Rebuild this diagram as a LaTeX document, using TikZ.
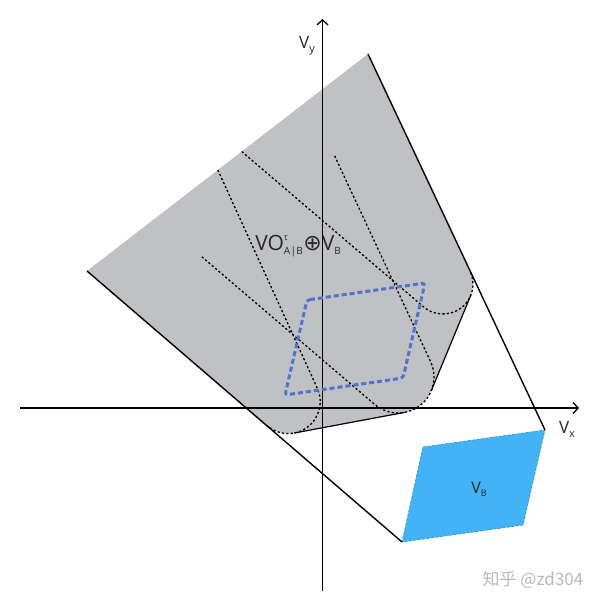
\documentclass[tikz,border=0pt]{standalone}
\usepackage{fontspec}
\setmainfont{Open Sans}
\newfontfamily\symfont{DejaVu Sans}
\newfontfamily\cjkfont{Noto Sans CJK SC}
\usetikzlibrary{arrows.meta,calc}
\definecolor{regiongray}{RGB}{191,193,196}
\definecolor{vbfill}{RGB}{66,180,245}
\definecolor{vbedge}{RGB}{40,140,215}
\definecolor{shiftblue}{RGB}{85,115,200}
\definecolor{wmgray}{RGB}{185,185,185}
\definecolor{labelink}{RGB}{40,40,40}
\tikzset{
  axisline/.style={line width=1.3pt,-{Straight Barb[length=5pt,width=11pt,line width=1.3pt]}},
  coneline/.style={line width=1.4pt},
  edgeline/.style={line width=1.2pt},
  dashline/.style={line width=1.3pt,dash pattern=on 2.2pt off 2.2pt},
  shiftbox/.style={draw=shiftblue,line width=3pt,dash pattern=on 5pt off 3pt,rounded corners=3pt},
  vbbox/.style={fill=vbfill,draw=vbedge,line width=0.6pt,dash pattern=on 3pt off 1.5pt},
  txt/.style={inner sep=0pt,text=labelink},
}
\begin{document}
\begin{tikzpicture}[x=1pt,y=1pt]
\begin{scope}[yscale=-1]
\useasboundingbox (0,0) rectangle (600,614);
% key points (pixel coordinates)
\coordinate (L) at (87,271);
\coordinate (Top) at (368,54);
\coordinate (C2) at (443,284);
\coordinate (C3) at (398,377);
\coordinate (C4) at (288.2,401.6);
\coordinate (E3a) at (202,255);
\coordinate (E3b) at (333,157);
\coordinate (T2s) at ($(C2)+(-25:30)$);
\coordinate (T2h) at ($(C2)+(130.5:30)$);
\coordinate (T3s) at ($(C3)+(-25:36)$);
\coordinate (T3h) at ($(C3)+(130.5:36)$);
\coordinate (T4s) at ($(C4)+(-24.5:32)$);
\coordinate (T4h) at ($(C4)+(130.6:32)$);
\coordinate (T2h') at ($(T2h)+(220.5:400)$);
\coordinate (T3s') at ($(T3s)+(245:400)$);
\coordinate (T3h') at ($(T3h)+(220.5:400)$);
\coordinate (T4s') at ($(T4s)+(245.5:400)$);
\coordinate (B2far) at (intersection of T2h--T2h' and L--Top);
\coordinate (A4far) at (intersection of T4s--T4s' and L--Top);
\coordinate (C3far) at (intersection of T3s--T3s' and E3a--E3b);
\coordinate (D3far) at (intersection of T3h--T3h' and E3a--E3b);
\coordinate (R3) at ($(C3)+(22.5:36)$);
\coordinate (R2) at ($(C2)+(22.5:30)$);
\coordinate (B3) at ($(C3)+(79.4:36)$);
\coordinate (B4) at ($(C4)+(79.4:32)$);
% V_B corners
\coordinate (VB1) at (423,447);
\coordinate (VB2) at (545,430);
\coordinate (VB3) at (523,525);
\coordinate (VB4) at (402,542);
% shifted V_B
\coordinate (S1) at (307,300);
\coordinate (S2) at (425,283);
\coordinate (S3) at (403,378);
\coordinate (S4) at (285,395);
% axes
\coordinate (xl) at (20,408);
\coordinate (xr) at (579,408);
\coordinate (yb) at (322.5,591);
\coordinate (yt) at (322.5,19);

% gray region
\fill[regiongray] (L) -- (Top) -- (T2s) arc[start angle=-25,end angle=22.5,radius=30]
  -- (R3) arc[start angle=22.5,end angle=79.4,radius=36]
  -- (B4) arc[start angle=79.4,end angle=130.6,radius=32] -- cycle;

% V_B
\draw[vbbox] (VB1) -- (VB2) -- (VB3) -- (VB4) -- cycle;

% axes
\draw[axisline] (xl) -- (xr);
\draw[axisline] (yb) -- (yt);

% dashed copies
\draw[dashline] (B2far) -- (T2h) arc[start angle=130.5,end angle=-25,radius=30];
\draw[dashline] (C3far) -- (T3s) arc[start angle=-25,end angle=130.5,radius=36] -- (D3far);
\draw[dashline] (A4far) -- (T4s) arc[start angle=-24.5,end angle=130.6,radius=32];

% solid edges
\draw[edgeline] (R2) -- (R3);
\draw[edgeline] (B3) -- (B4);
\draw[coneline] (Top) -- (VB2);
\draw[coneline] (L) -- (VB4);

% shifted V_B
\draw[shiftbox] (S1) -- (S2) -- (S3) -- (S4) -- cycle;

% labels
\node[txt] (lbl) at (298,246) {\fontsize{21}{21}\selectfont VO\raisebox{-3.5pt}{\fontsize{10}{10}\selectfont\rlap{\raisebox{13.5pt}{\fontsize{8.5}{8.5}\selectfont τ}}A{\kern0.3pt|\kern0.3pt}B}\hspace{0.5pt}{\symfont\fontsize{22}{22}\selectfont ⊕}V\raisebox{-3.5pt}{\fontsize{10}{10}\selectfont B}};
\node[txt] (vbl) at (479,489) {\fontsize{16}{16}\selectfont V\raisebox{-3pt}{\fontsize{9}{9}\selectfont B}};
\node[txt] (vx) at (567,429) {\fontsize{17}{17}\selectfont V\raisebox{-4pt}{\fontsize{11}{11}\selectfont x}};
\node[txt] (vy) at (307,46) {\fontsize{17}{17}\selectfont V\raisebox{-4pt}{\fontsize{11}{11}\selectfont y}};
\node[inner sep=0pt,text=wmgray] (wm) at (533,580) {\cjkfont\fontsize{17}{17}\selectfont 知乎 @zd304};
\end{scope}
\end{tikzpicture}
\end{document}
